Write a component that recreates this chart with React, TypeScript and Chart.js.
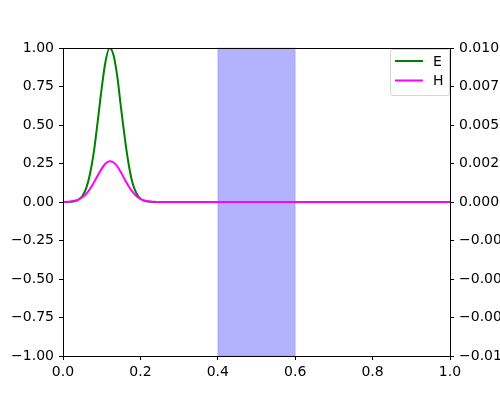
import { useEffect, useRef } from 'react'
import { Chart, registerables } from 'chart.js'

Chart.register(...registerables)

// x positions of the sampled curve points
const xValues = [
  0.0, 0.01, 0.02, 0.03, 0.04, 0.05, 0.06, 0.07, 0.08, 0.09, 0.1, 0.11, 0.12, 0.13, 0.14, 0.15,
  0.16, 0.17, 0.18, 0.19, 0.2, 0.21, 0.22, 0.23, 0.24, 0.25, 0.3, 0.4, 0.5, 0.6, 0.7, 0.8, 0.9, 1.0,
]
// E (left axis)
const eValues = [
  0.0, 0.0004, 0.0015, 0.005, 0.015, 0.039, 0.09, 0.185, 0.33, 0.53, 0.74, 0.914, 0.998, 0.96, 0.82,
  0.61, 0.41, 0.24, 0.12, 0.056, 0.022, 0.008, 0.0025, 0.0007, 0.0002, 0.0, 0.0, 0.0, 0.0, 0.0, 0.0,
  0.0, 0.0, 0.0,
]
// H (right axis)
const hValues = [
  0.000005, 0.000014, 0.000035, 0.000078, 0.00016, 0.00031, 0.00053, 0.00086, 0.00128, 0.00173,
  0.00217, 0.0025, 0.00265, 0.00258, 0.00232, 0.00191, 0.00145, 0.00101, 0.00065, 0.00038, 0.00021,
  0.0001, 0.000049, 0.00002, 0.000008, 0.000003, 0.0, 0.0, 0.0, 0.0, 0.0, 0.0, 0.0, 0.0,
]
const spanRange = [0.4, 0.6]
const legendLabels = ['E', 'H']
const seriesColors = ['#008000', '#ff00ff']

const FONT = 'DejaVu Sans'
const MINUS = '\u2212'

const fmt = (v: number, digits: number) => {
  const s = Math.abs(v).toFixed(digits)
  return v < -1e-12 ? MINUS + s : s
}

const App = () => {
  const chartRef = useRef<HTMLCanvasElement>(null)
  const chartInstance = useRef<Chart | null>(null)

  useEffect(() => {
    if (!chartRef.current) return
    const ctx = chartRef.current.getContext('2d')
    if (!ctx) return
    if (chartInstance.current) chartInstance.current.destroy()

    // axvspan behind the lines
    const spanPlugin = {
      id: 'span',
      beforeDatasetsDraw(chart: any) {
        const { ctx: c, chartArea, scales } = chart
        const x0 = scales.x.getPixelForValue(spanRange[0])
        const x1 = scales.x.getPixelForValue(spanRange[1])
        c.save()
        c.fillStyle = 'rgba(0, 0, 255, 0.3)'
        c.fillRect(x0, chartArea.top, x1 - x0, chartArea.bottom - chartArea.top)
        c.strokeStyle = 'rgba(0, 0, 255, 0.15)'
        c.lineWidth = 1
        c.strokeRect(x0, chartArea.top, x1 - x0, chartArea.bottom - chartArea.top)
        c.restore()
      },
    }

    // frame + legend box
    const framePlugin = {
      id: 'frame',
      afterDraw(chart: any) {
        const { ctx: c, chartArea } = chart
        c.save()
        c.strokeStyle = '#000'
        c.lineWidth = 1
        c.strokeRect(
          Math.round(chartArea.left) + 0.5,
          Math.round(chartArea.top) + 0.5,
          Math.round(chartArea.right - chartArea.left),
          Math.round(chartArea.bottom - chartArea.top)
        )
        // legend
        const bw = 59
        const bh = 46
        const bx = chartArea.right - bw - 1
        const by = chartArea.top + 1
        c.fillStyle = 'rgba(255,255,255,0.8)'
        c.strokeStyle = '#d6d6d6'
        c.beginPath()
        c.roundRect(bx + 0.5, by + 0.5, bw, bh, 2)
        c.fill()
        c.stroke()
        c.font = `14px "${FONT}"`
        c.textBaseline = 'middle'
        legendLabels.forEach((label, i) => {
          const y = by + 12 + i * 19.5
          c.strokeStyle = seriesColors[i]
          c.lineWidth = 2
          c.beginPath()
          c.moveTo(bx + 5, y)
          c.lineTo(bx + 33, y)
          c.stroke()
          c.fillStyle = '#000'
          c.fillText(label, bx + 43, y + 1)
        })
        c.restore()
      },
    }

    chartInstance.current = new Chart(ctx, {
      type: 'line',
      data: {
        datasets: [
          {
            label: legendLabels[0],
            data: xValues.map((x, i) => ({ x, y: eValues[i] })),
            borderColor: seriesColors[0],
            borderWidth: 2,
            pointRadius: 0,
            tension: 0.4,
            cubicInterpolationMode: 'monotone',
            yAxisID: 'y',
            order: 2,
          },
          {
            label: legendLabels[1],
            data: xValues.map((x, i) => ({ x, y: hValues[i] })),
            borderColor: seriesColors[1],
            borderWidth: 2,
            pointRadius: 0,
            cubicInterpolationMode: 'monotone',
            yAxisID: 'y2',
            order: 1,
          },
        ],
      },
      options: {
        animation: false,
        responsive: false,
        devicePixelRatio: 1,
        layout: { padding: { top: 48, left: 0, right: 0, bottom: 0 } },
        plugins: {
          legend: { display: false },
          tooltip: { enabled: false },
        },
        scales: {
          x: {
            type: 'linear',
            min: 0,
            max: 1,
            afterFit: (s: any) => {
              s.height = 44
            },
            afterBuildTicks: (s: any) => {
              s.ticks = [0, 0.2, 0.4, 0.6, 0.8, 1].map((v) => ({ value: v }))
            },
            border: { display: false },
            grid: {
              drawOnChartArea: false,
              tickLength: 4,
              tickColor: '#000',
              tickWidth: 1,
            },
            ticks: {
              color: '#000',
              padding: 4,
              maxRotation: 0,
              autoSkip: false,
              font: { family: FONT, size: 14 },
              callback: (v: any) => fmt(Number(v), 1),
            },
          },
          y: {
            position: 'left',
            min: -1,
            max: 1,
            afterFit: (s: any) => {
              s.width = 63
            },
            afterBuildTicks: (s: any) => {
              const t = []
              for (let i = 0; i <= 8; i++) t.push({ value: -1 + i * 0.25 })
              s.ticks = t
            },
            border: { display: false },
            grid: {
              drawOnChartArea: false,
              tickLength: 4,
              tickColor: '#000',
              tickWidth: 1,
            },
            ticks: {
              color: '#000',
              padding: 5,
              autoSkip: false,
              font: { family: FONT, size: 14 },
              callback: (v: any) => fmt(Number(v), 2),
            },
          },
          y2: {
            position: 'right',
            min: -0.01,
            max: 0.01,
            afterFit: (s: any) => {
              s.width = 50
            },
            afterBuildTicks: (s: any) => {
              const t = []
              for (let i = 0; i <= 8; i++) t.push({ value: -0.01 + i * 0.0025 })
              s.ticks = t
            },
            border: { display: false },
            grid: {
              drawOnChartArea: false,
              tickLength: 4,
              tickColor: '#000',
              tickWidth: 1,
            },
            ticks: {
              color: '#000',
              padding: 5,
              autoSkip: false,
              font: { family: FONT, size: 14 },
              callback: (v: any) => fmt(Number(v), 4),
            },
          },
        },
      },
      plugins: [spanPlugin, framePlugin],
    })

    return () => {
      if (chartInstance.current) {
        chartInstance.current.destroy()
        chartInstance.current = null
      }
    }
  }, [])

  return (
    <div style={{ position: 'absolute', left: 0, top: 0, width: 500, height: 400, background: '#fff' }}>
      <canvas ref={chartRef} width={500} height={400} style={{ width: 500, height: 400 }}></canvas>
    </div>
  )
}

export default App
